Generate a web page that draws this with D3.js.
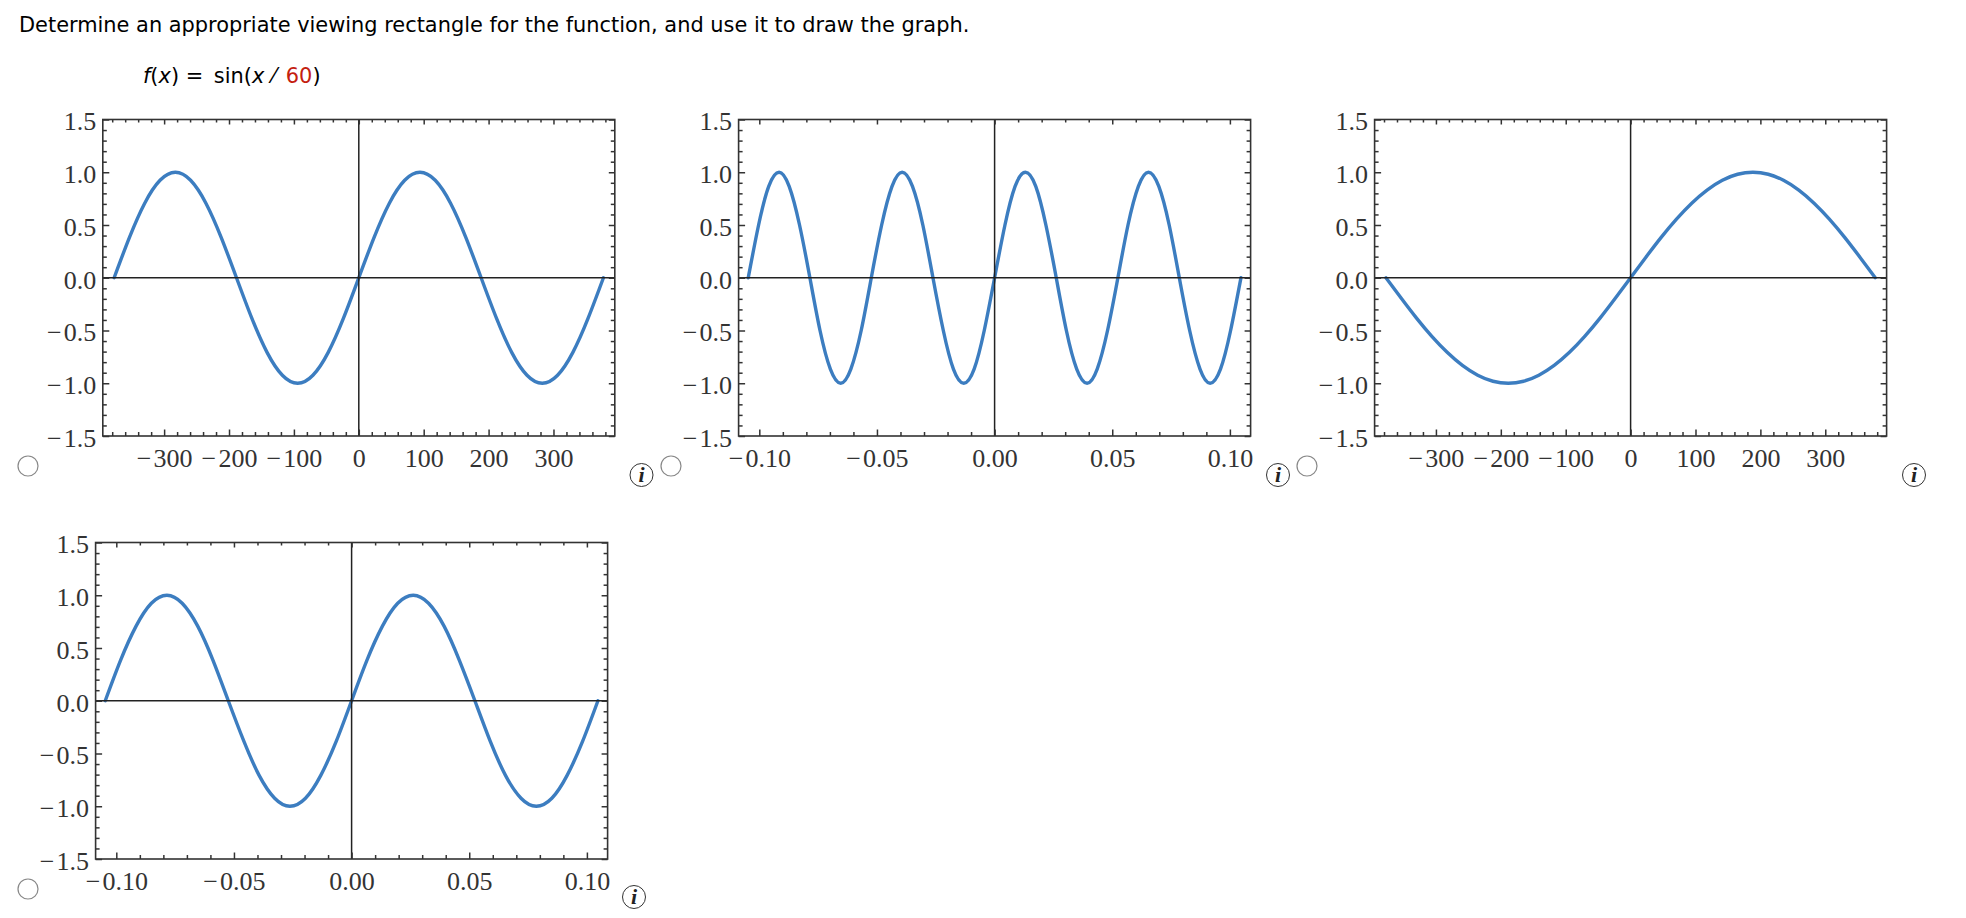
<!DOCTYPE html>
<html lang="en">
<head>
<meta charset="utf-8" />
<title>Viewing rectangle question</title>
<script src="https://d3js.org/d3.v7.min.js"></script>
<style>
  html, body { margin: 0; background: #fff; overflow: hidden; }
  svg        { display: block; }
  .prompt    { font-family: "DejaVu Sans", sans-serif; font-size: 20.9px; fill: #000; }
  .tick text { font-family: "Liberation Serif", serif; font-size: 26px; fill: #333; }
  .tick line { stroke: #333; stroke-width: 1.5px; }
  .frame     { fill: none; stroke: #333; stroke-width: 1.6px; }
  .zero      { stroke: #222; stroke-width: 1.5px; }
  .curve     { fill: none; stroke: #3c7dc0; stroke-width: 3.4px; stroke-linejoin: round; stroke-linecap: round; }
  .radio     { fill: #fff; stroke: #888; stroke-width: 1.2px; }
  .info      { fill: #fff; stroke: #333; stroke-width: 1px; }
  .infoText  { font-family: "Liberation Serif", serif; font-style: italic; font-weight: 700; font-size: 22px; fill: #222; text-anchor: middle; }
</style>
</head>
<body>
<svg id="chart" width="1966" height="918"></svg>
<script>
// values
const yMajor = [-1.5, -1.0, -0.5, 0, 0.5, 1.0, 1.5];
const wideMajor = [-300, -200, -100, 0, 100, 200, 300];
const narrowMajor = [-0.10, -0.05, 0, 0.05, 0.10];

const wideX = [-377,-353.4,-329.9,-306.3,-282.7,-259.2,-235.6,-212.1,-188.5,-164.9,-141.4,-117.8,-94.2,-70.7,-47.1,-23.6,0,23.6,47.1,70.7,94.2,117.8,141.4,164.9,188.5,212.1,235.6,259.2,282.7,306.3,329.9,353.4,377];
const twoCyclesY = [0,.383,.707,.924,1,.924,.707,.383,0,-.383,-.707,-.924,-1,-.924,-.707,-.383,0,.383,.707,.924,1,.924,.707,.383,0,-.383,-.707,-.924,-1,-.924,-.707,-.383,0];
const oneCycleY = [0,-.195,-.383,-.556,-.707,-.831,-.924,-.981,-1,-.981,-.924,-.831,-.707,-.556,-.383,-.195,0,.195,.383,.556,.707,.831,.924,.981,1,.981,.924,.831,.707,.556,.383,.195,0];
const narrowX = [-.1047,-.0982,-.0916,-.0851,-.0785,-.072,-.0654,-.0589,-.0524,-.0458,-.0393,-.0327,-.0262,-.0196,-.0131,-.0065,0,.0065,.0131,.0196,.0262,.0327,.0393,.0458,.0524,.0589,.0654,.072,.0785,.0851,.0916,.0982,.1047];
const denseX = [-.1047,-.1003,-.096,-.0916,-.0873,-.0829,-.0785,-.0742,-.0698,-.0654,-.0611,-.0567,-.0524,-.048,-.0436,-.0393,-.0349,-.0305,-.0262,-.0218,-.0175,-.0131,-.0087,-.0044,0,.0044,.0087,.0131,.0175,.0218,.0262,.0305,.0349,.0393,.0436,.048,.0524,.0567,.0611,.0654,.0698,.0742,.0785,.0829,.0873,.0916,.096,.1003,.1047];
const fourCyclesY = [0,.5,.866,1,.866,.5,0,-.5,-.866,-1,-.866,-.5,0,.5,.866,1,.866,.5,0,-.5,-.866,-1,-.866,-.5,0,.5,.866,1,.866,.5,0,-.5,-.866,-1,-.866,-.5,0,.5,.866,1,.866,.5,0,-.5,-.866,-1,-.866,-.5,0];

const svg = d3.select("#chart");

svg.append("text").attr("class", "prompt").attr("x", 19).attr("y", 32)
   .text("Determine an appropriate viewing rectangle for the function, and use it to draw the graph.");

const formula = svg.append("text").attr("class", "prompt").attr("x", 143).attr("y", 83);
formula.append("tspan").attr("font-style", "italic").text("f");
formula.append("tspan").text("(");
formula.append("tspan").attr("font-style", "italic").text("x");
formula.append("tspan").text(") = ");
formula.append("tspan").attr("dx", 4).text("sin(");
formula.append("tspan").attr("font-style", "italic").text("x");
formula.append("tspan").attr("dx", 8).text("⁄");
formula.append("tspan").attr("dx", 10).attr("fill", "#c4200f").text("60");
formula.append("tspan").text(")");

const yMinor = d3.range(-14, 15).filter(i => i % 5 !== 0).map(i => i / 10);
const wideMinor = d3.range(-19, 20).filter(i => i % 5 !== 0).map(i => i * 20);
const narrowMinor = d3.range(-10, 11).filter(i => i % 5 !== 0).map(i => i / 100);

const signed = (v, digits) => (v < 0 ? "\u2212\u200a" : "") + Math.abs(v).toFixed(digits);

const plotW = 512, plotH = 316.5;

function drawPlot(left, top, xMax, xMajor, xMinor, xDigits, xs, ys) {
  const x = d3.scaleLinear().domain([-xMax, xMax]).range([0, plotW]);
  const y = d3.scaleLinear().domain([-1.5, 1.5]).range([plotH, 0]);
  const g = svg.append("g").attr("transform", `translate(${left},${top})`);

  const line = d3.line().x(d => x(d[0])).y(d => y(d[1])).curve(d3.curveNatural);
  g.append("path").attr("class", "curve").attr("d", line(d3.zip(xs, ys)));

  g.append("line").attr("class", "zero").attr("x1", 0).attr("x2", plotW).attr("y1", y(0)).attr("y2", y(0));
  g.append("line").attr("class", "zero").attr("x1", x(0)).attr("x2", x(0)).attr("y1", 0).attr("y2", plotH);

  // minor and major ticks point inwards on all four sides, only bottom and left get labels
  const ticks = (axis, cls, shift) => {
    const a = g.append("g").attr("class", cls).attr("transform", shift).call(axis);
    a.select(".domain").remove();
    return a;
  };
  ticks(d3.axisBottom(x).tickValues(xMinor).tickSize(-4).tickFormat(""), "minor", `translate(0,${plotH})`);
  ticks(d3.axisTop(x).tickValues(xMinor).tickSize(-3).tickFormat(""), "minor", "translate(0,0)");
  ticks(d3.axisTop(x).tickValues(xMajor).tickSize(-5).tickFormat(""), "major", "translate(0,0)");
  ticks(d3.axisLeft(y).tickValues(yMinor).tickSize(-4).tickFormat(""), "minor", "translate(0,0)");
  ticks(d3.axisRight(y).tickValues(yMinor).tickSize(-4).tickFormat(""), "minor", `translate(${plotW},0)`);
  ticks(d3.axisRight(y).tickValues(yMajor).tickSize(-6).tickFormat(""), "major", `translate(${plotW},0)`);

  ticks(d3.axisBottom(x).tickValues(xMajor).tickSize(-6.5).tickFormat(v => signed(v, xDigits)), "major", `translate(0,${plotH})`)
    .selectAll("text").attr("y", 31).attr("dy", 0);
  ticks(d3.axisLeft(y).tickValues(yMajor).tickSize(-6.5).tickFormat(v => signed(v, 1)), "major", "translate(0,0)")
    .selectAll("text").attr("x", -6.5).attr("dy", "0.4em");

  g.append("rect").attr("class", "frame").attr("width", plotW).attr("height", plotH);
}

drawPlot(102.8, 119.5, 394.5, wideMajor, wideMinor, 0, wideX, twoCyclesY);
drawPlot(738.6, 119.5, 0.1088, narrowMajor, narrowMinor, 2, denseX, fourCyclesY);
drawPlot(1374.6, 119.5, 394.5, wideMajor, wideMinor, 0, wideX, oneCycleY);
drawPlot(95.6, 542.5, 0.1088, narrowMajor, narrowMinor, 2, narrowX, twoCyclesY);

const radios = [[28, 466], [671, 466], [1307, 466], [28, 889]];
const infos = [[641.5, 475], [1278, 475], [1914, 475], [634, 897]];

svg.selectAll("circle.radio").data(radios).enter().append("circle")
   .attr("class", "radio").attr("cx", d => d[0]).attr("cy", d => d[1]).attr("r", 10);

svg.selectAll("circle.info").data(infos).enter().append("circle")
   .attr("class", "info").attr("cx", d => d[0]).attr("cy", d => d[1]).attr("r", 11.5);

svg.selectAll("text.infoText").data(infos).enter().append("text")
   .attr("class", "infoText").attr("x", d => d[0]).attr("y", d => d[1] + 7).text("i");
</script>
</body>
</html>
